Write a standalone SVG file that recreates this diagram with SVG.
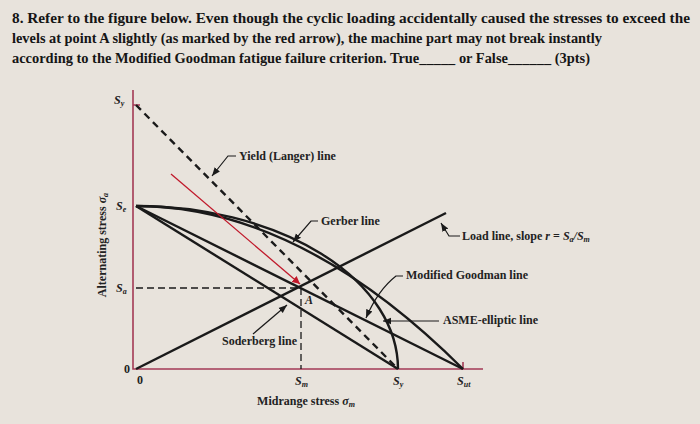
<svg xmlns="http://www.w3.org/2000/svg" width="700" height="424" viewBox="0 0 700 424">
<defs>
<style>
.t{font-family:"Liberation Serif",serif;font-weight:bold;font-size:14.5px;fill:#151515}
.l{font-family:"Liberation Serif",serif;font-weight:bold;font-size:12px;fill:#222}
.i{font-family:"Liberation Serif",serif;font-style:italic;font-weight:bold;font-size:12px;fill:#222}
.k{stroke:#1a1a1a;stroke-width:2.4;fill:none}
.d{stroke:#1a1a1a;stroke-width:2.4;fill:none;stroke-dasharray:7,5}
.ld{stroke:#1a1a1a;stroke-width:1.2;fill:none}
.ax{stroke:#a33a55;stroke-width:1.6;fill:none}
</style>
<marker id="ah" viewBox="0 0 10 10" refX="10" refY="5" markerWidth="7" markerHeight="7" orient="auto"><path d="M0,1 L10,5 L0,9 z" fill="#1a1a1a"/></marker>
<marker id="ra" viewBox="0 0 10 10" refX="10" refY="5" markerWidth="6" markerHeight="6" orient="auto"><path d="M0,0 L10,5 L0,10 z" fill="#c0182a"/></marker>
</defs>
<rect width="700" height="424" fill="#e8e3dc"/>
<g id="title">
<text class="t" x="12" y="23" textLength="678" lengthAdjust="spacingAndGlyphs">8. Refer to the figure below. Even though the cyclic loading accidentally caused the stresses to exceed the</text>
<text class="t" x="12" y="43" textLength="590" lengthAdjust="spacingAndGlyphs">levels at point A slightly (as marked by the red arrow), the machine part may not break instantly</text>
<text class="t" x="12" y="63" textLength="578" lengthAdjust="spacingAndGlyphs">according to the Modified Goodman fatigue failure criterion. True_____ or False______ (3pts)</text>
</g>
<g id="axes">
<path class="ax" d="M133,90 V369 H483"/>
<path class="ax" d="M133,105 H140 M398,362 V369 M463,362 V369"/>
<text class="i" x="114" y="104">S<tspan font-size="8" dy="2">y</tspan></text>
<text class="i" x="116" y="210">S<tspan font-size="8" dy="2">e</tspan></text>
<text class="i" x="116" y="292">S<tspan font-size="8" dy="2">a</tspan></text>
<text class="l" x="124" y="373">0</text>
<text class="l" x="137" y="384">0</text>
<text class="i" x="295" y="385">S<tspan font-size="8" dy="2">m</tspan></text>
<text class="i" x="393" y="385">S<tspan font-size="8" dy="2">y</tspan></text>
<text class="i" x="457" y="385">S<tspan font-size="8" dy="2">ut</tspan></text>
<text class="l" transform="translate(106,245) rotate(-90)" text-anchor="middle">Alternating stress <tspan font-style="italic">σ<tspan font-size="8" dy="2">a</tspan></tspan></text>
<text class="l" x="306" y="405" text-anchor="middle">Midrange stress <tspan font-style="italic">σ<tspan font-size="8" dy="2">m</tspan></tspan></text>
</g>
<g id="connectors">
<path class="d" d="M136,105 L398,369"/>
<path class="k" d="M136,206 L463,369"/>
<path class="k" d="M136,206 L398,369"/>
<path class="k" d="M136,206 Q299.5,206 463,369"/>
<path class="k" d="M136,206 A262,163 0 0 1 398,369"/>
<path class="k" d="M136,369 L446,213"/>
<path d="M136,288 H301 V369" stroke="#1a1a1a" stroke-width="1.3" fill="none" stroke-dasharray="7,4"/>
<path d="M171,174 L300,284" stroke="#c0182a" stroke-width="1.3" fill="none" marker-end="url(#ra)"/>
<path class="ld" d="M236,156 H228 L212,176" marker-end="url(#ah)"/>
<path class="ld" d="M318,221 H311 L293,242" marker-end="url(#ah)"/>
<path class="ld" d="M460,236 H449 L441,223" marker-end="url(#ah)"/>
<path class="ld" d="M403,276 H396 Q378,290 366,318" marker-end="url(#ah)"/>
<path class="ld" d="M439,321 H383" marker-end="url(#ah)"/>
<path class="ld" d="M253,334 L287,305" marker-end="url(#ah)"/>
</g>
<g id="labels">
<text class="l" x="239" y="160">Yield (Langer) line</text>
<text class="l" x="321" y="225">Gerber line</text>
<text class="l" x="462" y="240">Load line, slope <tspan font-style="italic">r</tspan> = <tspan font-style="italic">S<tspan font-size="8" dy="2">a</tspan><tspan dy="-2">/S</tspan><tspan font-size="8" dy="2">m</tspan></tspan></text>
<text class="l" x="406" y="279">Modified Goodman line</text>
<text class="l" x="443" y="324">ASME-elliptic line</text>
<text class="l" x="222" y="345">Soderberg line</text>
<text class="i" x="305" y="304">A</text>
</g>
</svg>
